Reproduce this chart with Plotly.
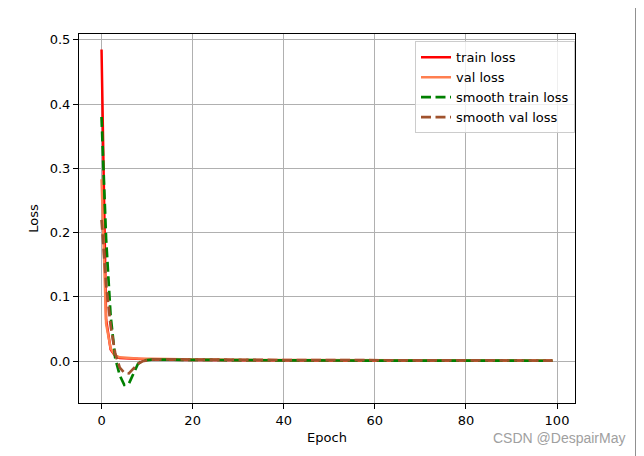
import plotly.graph_objects as go

epochs = list(range(100))

train_loss = [
    0.485, 0.065, 0.018, 0.008, 0.005, 0.0045, 0.0040, 0.0038, 0.0035, 0.0032,
    0.0030, 0.0028, 0.0026, 0.0025, 0.0024,
    0.0023, 0.0022, 0.0022, 0.0021, 0.0021, 0.0020, 0.0020, 0.0019, 0.0019, 0.0018,
    0.0018, 0.0018, 0.0017, 0.0017, 0.0017, 0.0016, 0.0016, 0.0016, 0.0015, 0.0015,
    0.0015, 0.0015, 0.0014, 0.0014, 0.0014, 0.0014, 0.0013, 0.0013, 0.0013, 0.0013,
    0.0013, 0.0012, 0.0012, 0.0012, 0.0012, 0.0012, 0.0012, 0.0011, 0.0011, 0.0011,
    0.0011, 0.0011, 0.0011, 0.0011, 0.0010, 0.0010, 0.0010, 0.0010, 0.0010, 0.0010,
    0.0010, 0.0010, 0.0009, 0.0009, 0.0009, 0.0009, 0.0009, 0.0009, 0.0009, 0.0009,
    0.0009, 0.0009, 0.0008, 0.0008, 0.0008, 0.0008, 0.0008, 0.0008, 0.0008, 0.0008,
    0.0008, 0.0008, 0.0008, 0.0008, 0.0007, 0.0007, 0.0007, 0.0007, 0.0007, 0.0007,
    0.0007, 0.0007, 0.0007, 0.0007, 0.0007,
]

val_loss = [
    0.283, 0.058, 0.020, 0.009, 0.006, 0.0052, 0.0048, 0.0045, 0.0042, 0.0040,
    0.0038, 0.0035, 0.0033, 0.0031, 0.0030,
    0.0029, 0.0028, 0.0027, 0.0027, 0.0026, 0.0026, 0.0025, 0.0025, 0.0024, 0.0024,
    0.0023, 0.0023, 0.0022, 0.0022, 0.0022, 0.0021, 0.0021, 0.0021, 0.0020, 0.0020,
    0.0020, 0.0019, 0.0019, 0.0019, 0.0019, 0.0018, 0.0018, 0.0018, 0.0018, 0.0017,
    0.0017, 0.0017, 0.0017, 0.0016, 0.0016, 0.0016, 0.0016, 0.0016, 0.0015, 0.0015,
    0.0015, 0.0015, 0.0015, 0.0014, 0.0014, 0.0014, 0.0014, 0.0014, 0.0014, 0.0013,
    0.0013, 0.0013, 0.0013, 0.0013, 0.0013, 0.0013, 0.0012, 0.0012, 0.0012, 0.0012,
    0.0012, 0.0012, 0.0012, 0.0012, 0.0011, 0.0011, 0.0011, 0.0011, 0.0011, 0.0011,
    0.0011, 0.0011, 0.0011, 0.0011, 0.0010, 0.0010, 0.0010, 0.0010, 0.0010, 0.0010,
    0.0010, 0.0010, 0.0010, 0.0010, 0.0010,
]

smooth_train_loss = [
    0.380, 0.190, 0.070, 0.005, -0.022, -0.037, -0.035, -0.018, -0.004, 0.001,
    0.0020, 0.0025, 0.0025, 0.0024, 0.0023,
    0.0023, 0.0022, 0.0022, 0.0021, 0.0021, 0.0020, 0.0020, 0.0019, 0.0019, 0.0018,
    0.0018, 0.0018, 0.0017, 0.0017, 0.0017, 0.0016, 0.0016, 0.0016, 0.0015, 0.0015,
    0.0015, 0.0015, 0.0014, 0.0014, 0.0014, 0.0014, 0.0013, 0.0013, 0.0013, 0.0013,
    0.0013, 0.0012, 0.0012, 0.0012, 0.0012, 0.0012, 0.0012, 0.0011, 0.0011, 0.0011,
    0.0011, 0.0011, 0.0011, 0.0011, 0.0010, 0.0010, 0.0010, 0.0010, 0.0010, 0.0010,
    0.0010, 0.0010, 0.0009, 0.0009, 0.0009, 0.0009, 0.0009, 0.0009, 0.0009, 0.0009,
    0.0009, 0.0009, 0.0008, 0.0008, 0.0008, 0.0008, 0.0008, 0.0008, 0.0008, 0.0008,
    0.0008, 0.0008, 0.0008, 0.0008, 0.0007, 0.0007, 0.0007, 0.0007, 0.0007, 0.0007,
    0.0007, 0.0007, 0.0007, 0.0007, 0.0007,
]

smooth_val_loss = [
    0.220, 0.120, 0.055, 0.012, -0.010, -0.018, -0.019, -0.012, -0.004, 0.000,
    0.0015, 0.0025, 0.0030, 0.0030, 0.0030,
    0.0029, 0.0028, 0.0027, 0.0027, 0.0026, 0.0026, 0.0025, 0.0025, 0.0024, 0.0024,
    0.0023, 0.0023, 0.0022, 0.0022, 0.0022, 0.0021, 0.0021, 0.0021, 0.0020, 0.0020,
    0.0020, 0.0019, 0.0019, 0.0019, 0.0019, 0.0018, 0.0018, 0.0018, 0.0018, 0.0017,
    0.0017, 0.0017, 0.0017, 0.0016, 0.0016, 0.0016, 0.0016, 0.0016, 0.0015, 0.0015,
    0.0015, 0.0015, 0.0015, 0.0014, 0.0014, 0.0014, 0.0014, 0.0014, 0.0014, 0.0013,
    0.0013, 0.0013, 0.0013, 0.0013, 0.0013, 0.0013, 0.0012, 0.0012, 0.0012, 0.0012,
    0.0012, 0.0012, 0.0012, 0.0012, 0.0011, 0.0011, 0.0011, 0.0011, 0.0011, 0.0011,
    0.0011, 0.0011, 0.0011, 0.0011, 0.0010, 0.0010, 0.0010, 0.0010, 0.0010, 0.0010,
    0.0010, 0.0010, 0.0010, 0.0010, 0.0010,
]

FONT = "DejaVu Sans, Arial, sans-serif"
DASH = "10px,4.5px"

fig = go.Figure()
fig.add_trace(go.Scatter(x=epochs, y=train_loss, name="train loss", mode="lines",
                         line=dict(color="red", width=2.5)))
fig.add_trace(go.Scatter(x=epochs, y=val_loss, name="val loss", mode="lines",
                         line=dict(color="coral", width=2.5)))
fig.add_trace(go.Scatter(x=epochs, y=smooth_train_loss, name="smooth train loss", mode="lines",
                         line=dict(color="green", width=2.7, dash=DASH)))
fig.add_trace(go.Scatter(x=epochs, y=smooth_val_loss, name="smooth val loss", mode="lines",
                         line=dict(color="sienna", width=2.7, dash=DASH)))

axis_common = dict(
    showgrid=True, gridcolor="#b0b0b0", gridwidth=1,
    showline=True, linecolor="black", linewidth=1, mirror=True,
    ticks="outside", ticklen=5, tickcolor="black", tickwidth=1,
    zeroline=False, tickfont=dict(family=FONT, size=13, color="black"),
)

fig.update_xaxes(range=[-4.95, 103.95], tickvals=[0, 20, 40, 60, 80, 100],
                 title=dict(text="Epoch", font=dict(family=FONT, size=13, color="black"), standoff=6),
                 **axis_common)
fig.update_yaxes(range=[-0.065, 0.509], tickvals=[0.0, 0.1, 0.2, 0.3, 0.4, 0.5], tickformat=".1f",
                 title=dict(text="Loss", font=dict(family=FONT, size=13, color="black"), standoff=8),
                 **axis_common)

# the page adds an 8px body margin, so the plot box is shifted up/left by 8px
fig.update_layout(
    width=644, height=456,
    margin=dict(l=71, r=76.5, t=26, b=61, autoexpand=False),
    paper_bgcolor="white", plot_bgcolor="white",
    font=dict(family=FONT, size=13, color="black"),
    showlegend=True,
    legend=dict(x=1.0, y=0.98, xanchor="right", yanchor="top",
                bgcolor="rgba(255,255,255,0.8)", bordercolor="#cccccc", borderwidth=1,
                font=dict(family=FONT, size=13, color="black"), tracegroupgap=0),
    # dark window strip at the right edge of the screenshot
    shapes=[dict(type="rect", xref="paper", yref="paper", x0=1.122, x1=1.3, y0=-0.3, y1=1.2,
                 fillcolor="#1e1e1e", line=dict(width=0), layer="above")],
    annotations=[
        dict(text="CSDN @DespairMay", xref="paper", yref="paper", x=1.104, y=-0.095,
             xanchor="right", yanchor="middle", showarrow=False,
             font=dict(family="Liberation Sans, Arial, sans-serif", size=14, color="#a0a0a0")),
    ],
)

fig.write_html("out.html")
